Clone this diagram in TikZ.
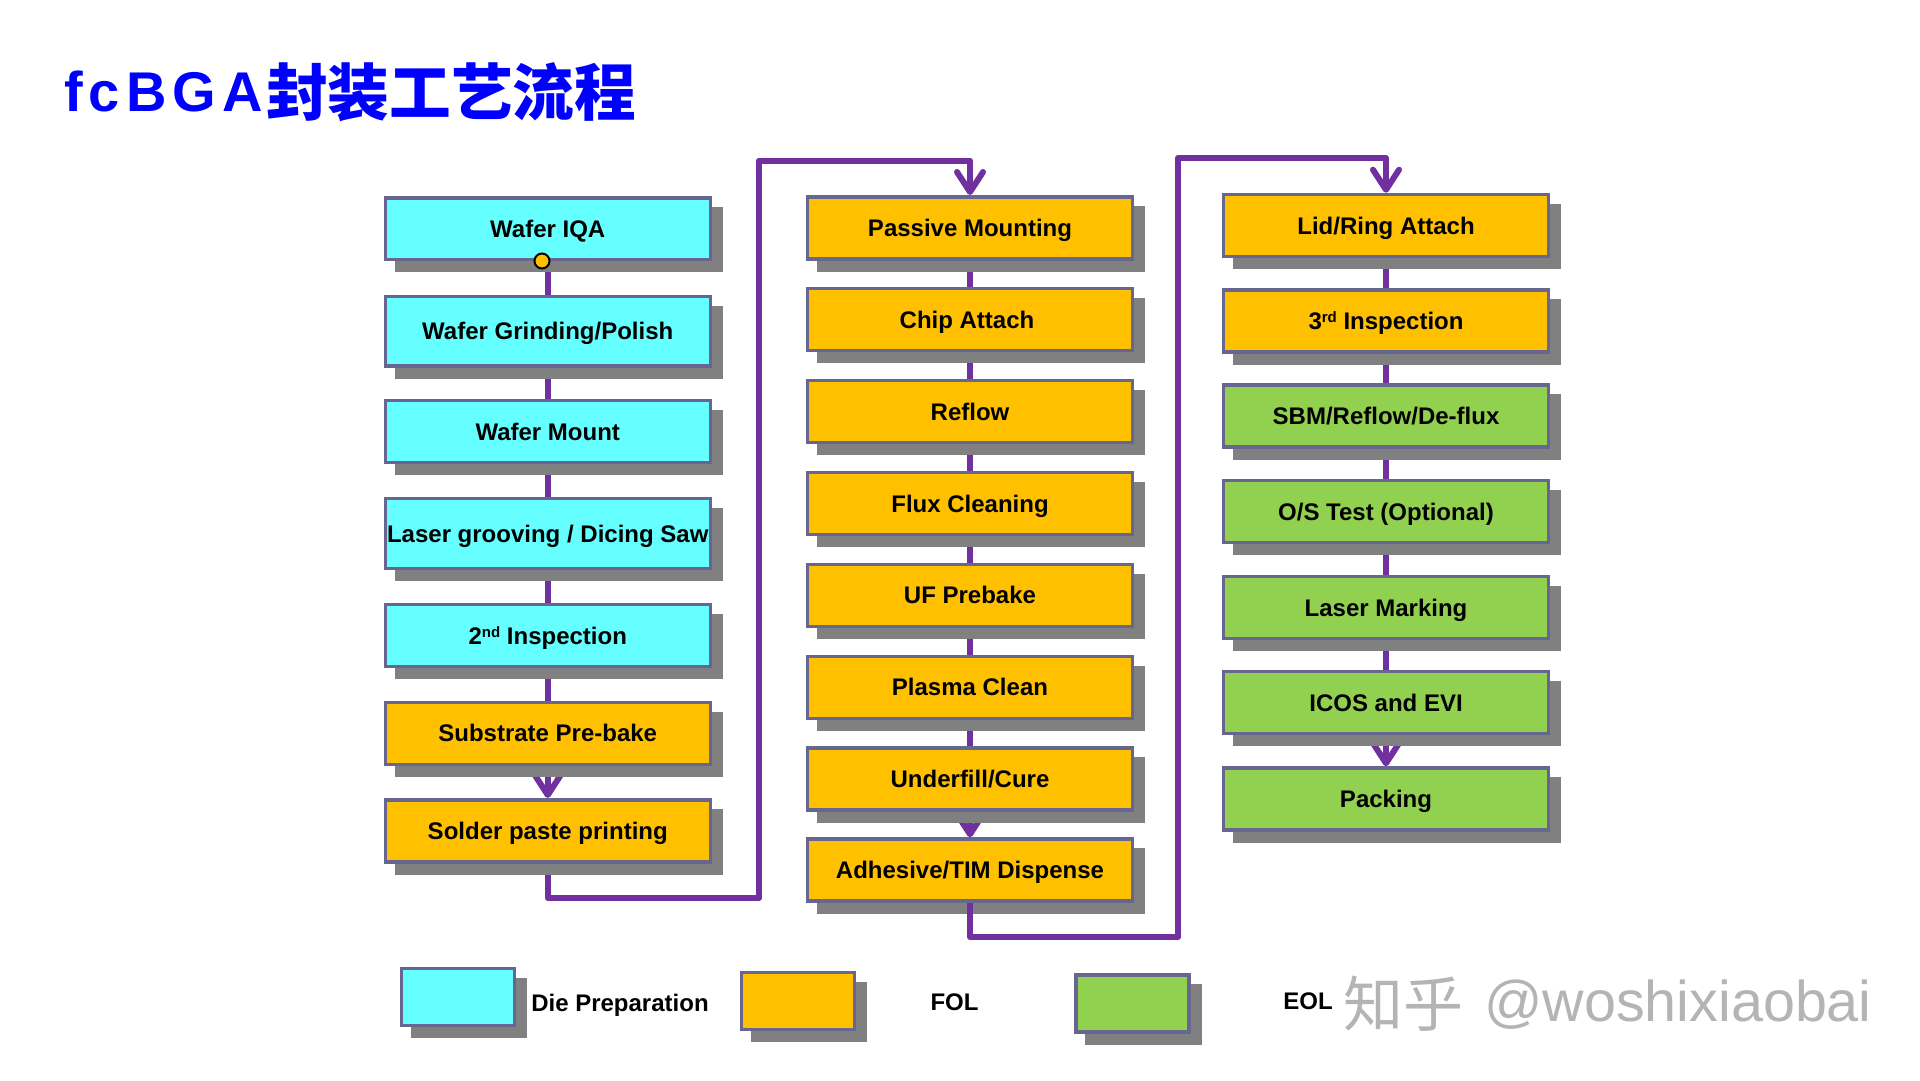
\documentclass[tikz,border=0pt]{standalone}
\usepackage{fontspec}
\setmainfont{Liberation Sans}
\newfontfamily\cjkfont{Noto Sans CJK SC}
\usepackage{xcolor}
\usetikzlibrary{arrows.meta,shadows,backgrounds}
\definecolor{diecyan}{HTML}{66FFFF}
\definecolor{folorange}{HTML}{FFC000}
\definecolor{eolgreen}{HTML}{92D050}
\definecolor{flowpurple}{HTML}{7030A0}
\definecolor{boxline}{HTML}{666690}
\definecolor{boxshade}{HTML}{808080}
\definecolor{titleblue}{HTML}{0000FF}
\definecolor{markgray}{HTML}{B4B4B4}
\newcommand{\ordsup}[1]{\raisebox{7pt}{\fontsize{15}{15}\selectfont #1}}
\tikzset{
    procbox/.style={draw=boxline, line width=3.5pt, inner sep=0pt, minimum width=325pt, minimum height=62pt,
        text height=17pt, text depth=0pt, font=\fontsize{24}{28}\selectfont\bfseries,
        drop shadow={shadow xshift=11pt, shadow yshift=-11pt, opacity=1, fill=boxshade, draw=boxshade}},
    keybox/.style={procbox, minimum width=113pt, minimum height=57pt},
    keytext/.style={inner sep=0pt, text height=17pt, text depth=0pt, font=\fontsize{24}{28}\selectfont\bfseries},
    flow/.style={draw=flowpurple, line width=6pt, line join=round},
    flowtip/.tip={Straight Barb[round, length=20pt, width=26pt]}
}
\begin{document}
\begin{tikzpicture}[x=1pt,y=-1pt]
\useasboundingbox (0,0) rectangle (1920,1080);
\node[anchor=base west, inner sep=0pt, text=titleblue] (title) at (64,111.7)
    {\fontsize{56}{60}\selectfont\bfseries\addfontfeature{LetterSpace=11}fcBGA\hspace{3pt}\raisebox{-4pt}{\cjkfont\fontsize{61.7}{60}\selectfont\bfseries 封装工艺流程}};

\node[procbox, fill=diecyan, minimum height=61.5pt] (iqa) at (547.75,228.75) {Wafer IQA};
\node[procbox, fill=diecyan, minimum height=69.5pt] (grind) at (547.75,331.25) {Wafer Grinding/Polish};
\node[procbox, fill=diecyan] (mount) at (547.75,431.5) {Wafer Mount};
\node[procbox, fill=diecyan, minimum height=70pt] (dicing) at (547.75,533.5) {Laser grooving / Dicing Saw};
\node[procbox, fill=diecyan] (insp2) at (547.75,635.5) {2\ordsup{nd} Inspection};
\node[procbox, fill=folorange] (prebake) at (547.75,733.25) {Substrate Pre-bake};
\node[procbox, fill=folorange] (paste) at (547.75,830.75) {Solder paste printing};

\node[procbox, fill=folorange] (passive) at (970,227.75) {Passive Mounting};
\node[procbox, fill=folorange] (chip) at (970,319.6) {Chip Attach\kern6pt};
\node[procbox, fill=folorange] (reflow) at (970,411.5) {Reflow};
\node[procbox, fill=folorange] (flux) at (970,503.5) {Flux Cleaning};
\node[procbox, fill=folorange] (ufbake) at (970,595.4) {UF Prebake};
\node[procbox, fill=folorange] (plasma) at (970,687.3) {Plasma Clean};
\node[procbox, fill=folorange] (underfill) at (970,779) {Underfill/Cure};
\node[procbox, fill=folorange] (adhesive) at (970,870) {Adhesive/TIM Dispense};

\node[procbox, fill=folorange] (lid) at (1386,225.5) {Lid/Ring Attach};
\node[procbox, fill=folorange] (insp3) at (1386,320.75) {3\ordsup{rd} Inspection};
\node[procbox, fill=eolgreen] (sbm) at (1386,416) {SBM/Reflow/De-flux};
\node[procbox, fill=eolgreen] (ostest) at (1386,511.5) {O/S Test (Optional)};
\node[procbox, fill=eolgreen] (marking) at (1386,607.5) {Laser Marking};
\node[procbox, fill=eolgreen] (icos) at (1386,702.5) {ICOS and EVI};
\node[procbox, fill=eolgreen] (packing) at (1386,799) {Packing};

\node[circle, draw=black, line width=2pt, fill=folorange, inner sep=0pt, minimum size=15pt] (startdot) at (542,261) {};

\coordinate (c1a) at (547.75,898);
\coordinate (c1b) at (759,898);
\coordinate (c1c) at (759,160.5);
\coordinate (c1d) at (970,160.5);
\coordinate (c2a) at (970,937);
\coordinate (c2b) at (1178,937);
\coordinate (c2c) at (1178,158);
\coordinate (c2d) at (1386,158);
\begin{scope}[on background layer]
\draw[flow] (iqa) -- (grind);
\draw[flow] (grind) -- (mount);
\draw[flow] (mount) -- (dicing);
\draw[flow] (dicing) -- (insp2);
\draw[flow] (insp2) -- (prebake);
\draw[flow, -{flowtip}] (prebake) -- (paste.north);
\draw[flow, -{flowtip}] (paste) -- (c1a) -- (c1b) -- (c1c) -- (c1d) -- (passive.north);
\draw[flow] (passive) -- (chip);
\draw[flow] (chip) -- (reflow);
\draw[flow] (reflow) -- (flux);
\draw[flow] (flux) -- (ufbake);
\draw[flow] (ufbake) -- (plasma);
\draw[flow] (plasma) -- (underfill);
\draw[flow, -{flowtip}] (underfill) -- (adhesive.north);
\draw[flow] (lid) -- (insp3);
\draw[flow] (insp3) -- (sbm);
\draw[flow] (sbm) -- (ostest);
\draw[flow] (ostest) -- (marking);
\draw[flow] (marking) -- (icos);
\draw[flow, -{flowtip}] (icos) -- (packing.north);
\end{scope}
\draw[flow, -{flowtip}] (adhesive.south) -- (c2a) -- (c2b) -- (c2c) -- (c2d) -- (lid.north);

\node[keybox, fill=diecyan] (keydie) at (457.75,996.85) {};
\node[keybox, fill=folorange] (keyfol) at (798.2,1000.85) {};
\node[keybox, fill=eolgreen] (keyeol) at (1132.3,1003.5) {};
\node[keytext] (labdie) at (620,1003) {Die Preparation};
\node[keytext] (labfol) at (954.5,1001.5) {FOL};
\node[keytext] (labeol) at (1308,1001) {EOL};

\node[anchor=base west, inner sep=0pt, text=markgray] (mark) at (1343,1021.7)
    {\raisebox{-5pt}{\cjkfont\fontsize{60}{60}\selectfont 知乎}\hspace{21pt}\fontsize{57.5}{60}\selectfont @woshixiaobai};
\end{tikzpicture}
\end{document}
